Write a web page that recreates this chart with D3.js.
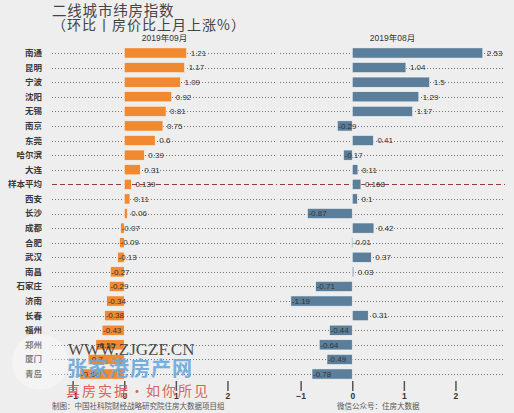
<!DOCTYPE html>
<html><head><meta charset="utf-8">
<script src="https://cdn.jsdelivr.net/npm/d3@7/dist/d3.min.js"></script>
<style>
html,body{margin:0;padding:0;background:#eeeeee;}
svg{display:block;}
</style></head>
<body>
<script>
const cities = ["南通","昆明","宁波","沈阳","无锡","南京","东莞","哈尔滨","大连","样本平均","西安","长沙","成都","合肥","武汉","南昌","石家庄","济南","长春","福州","郑州","厦门","青岛"];
const sep2019 = [1.21,1.17,1.09,0.92,0.81,0.75,0.6,0.39,0.31,0.139,0.11,0.06,-0.07,-0.09,-0.13,-0.27,-0.29,-0.34,-0.38,-0.43,-0.55,-0.7,-0.86];
const aug2019 = [2.53,1.04,1.5,1.29,1.17,-0.29,0.41,-0.17,0.11,0.168,0.1,-0.87,0.42,-0.01,0.37,0.03,-0.71,-1.19,0.31,-0.44,-0.64,-0.49,-0.78];
const panelTitles = ["2019年09月","2019年08月"];
const tickVals = [-1,0,1,2];
const avgName = "样本平均";

const W = 514, H = 413;
const svg = d3.select("body").append("svg").attr("width",W).attr("height",H);
svg.append("rect").attr("width",W).attr("height",H).attr("fill","#eeeeee");

// title
svg.append("text").attr("x",52).attr("y",16).attr("font-family","Noto Sans CJK SC").attr("font-size",14.5).attr("letter-spacing",0.8).attr("fill","#444").text("二线城市纬房指数");
svg.append("text").attr("x",52).attr("y",30).attr("font-family","Noto Sans CJK SC").attr("font-size",14).attr("letter-spacing",1).attr("fill","#444").text("（环比丨房价比上月上涨%）");

const y = d3.scaleBand().domain(cities).range([43.5,383.5]).paddingInner(0.3).paddingOuter(0.3);
const cy = d => Math.round(y(d)+y.bandwidth()/2)+0.5;

const panels = [
  {x0:52, x1:277, data:sep2019, color:"#f0892f", title:panelTitles[0]},
  {x0:280, x1:505, data:aug2019, color:"#5b7f9b", title:panelTitles[1]}
];

// city labels
svg.append("g").selectAll("text").data(cities).join("text")
  .attr("x",42).attr("y",d=>y(d)+y.bandwidth()/2).attr("dy","0.35em")
  .attr("text-anchor","end").attr("font-family","Noto Sans CJK SC").attr("font-weight","bold")
  .attr("font-size",8.5).attr("fill","#3a3a3a").text(d=>d);

panels.forEach(p=>{
  const x = d3.scaleLinear().domain([-1.4,2.96]).range([p.x0,p.x1]);
  const g = svg.append("g");
  // gridlines
  g.selectAll("line.grid").data(cities).join("line")
    .attr("x1",p.x0).attr("x2",p.x1)
    .attr("y1",cy).attr("y2",cy)
    .attr("stroke",d=>d===avgName?"#9a3b3b":"#777")
    .attr("stroke-width",1)
    .attr("stroke-dasharray",d=>d===avgName?"5,3":"1,2");
  // title
  g.append("text").attr("x",(p.x0+p.x1)/2).attr("y",41).attr("text-anchor","middle")
    .attr("font-family","Liberation Sans, Noto Sans CJK SC").attr("font-size",8.5).attr("fill","#333").text(p.title);
  // bars
  g.selectAll("rect").data(cities.map((c,i)=>({c,v:p.data[i]}))).join("rect")
    .attr("x",d=>x(Math.min(0,d.v))).attr("width",d=>Math.max(1,Math.abs(x(d.v)-x(0))))
    .attr("y",d=>y(d.c)).attr("height",y.bandwidth())
    .attr("fill",p.color).attr("stroke","#f7f7f7").attr("stroke-width",0.6);
  // value labels
  g.selectAll("text.val").data(cities.map((c,i)=>({c,v:p.data[i]}))).join("text")
    .attr("class","val")
    .attr("x",d=>d.v>=0?x(d.v)+4:x(d.v)+1)
    .attr("y",d=>y(d.c)+y.bandwidth()/2).attr("dy","0.35em")
    .attr("font-family","Liberation Sans").attr("font-size",8).attr("fill","#333")
    .text(d=>d.v);
  // axis
  const ax = g.append("g").attr("transform","translate(0,381)")
    .call(d3.axisBottom(x).tickValues(tickVals).tickSize(10).tickPadding(2).tickFormat(d3.format("d")));
  ax.select(".domain").remove();
  ax.selectAll(".tick line").attr("stroke","#555").attr("stroke-width",1.5);
  ax.selectAll(".tick text").attr("font-family","Liberation Sans").attr("font-weight","bold").attr("font-size",8.5).attr("fill","#333");
});

// footers
svg.append("text").attr("x",52).attr("y",409).attr("font-family","Noto Sans CJK SC").attr("font-size",7.5).attr("fill","#555").text("制图：中国社科院财经战略研究院住房大数据项目组");
svg.append("text").attr("x",337).attr("y",409).attr("font-family","Noto Sans CJK SC").attr("font-size",7.5).attr("fill","#555").text("微信公众号：住房大数据");

// watermark
const wm = svg.append("g");
wm.append("circle").attr("cx",40).attr("cy",362).attr("r",28).attr("fill","#ffffff").attr("opacity",0.35);
wm.append("text").attr("x",68).attr("y",355).attr("font-family","Liberation Serif").attr("font-size",17).attr("fill","#333").attr("opacity",0.85).text("WWW.ZJGZF.CN");
wm.append("text").attr("x",67).attr("y",376).attr("font-family","Noto Sans CJK SC").attr("font-weight","bold").attr("font-size",20).attr("fill","#6aa8dc").attr("opacity",0.9).attr("letter-spacing",1).text("张家港房产网");
wm.append("text").attr("x",66).attr("y",396).attr("font-family","Noto Sans CJK SC").attr("font-size",14).attr("fill","#d9534f").attr("opacity",0.9).attr("letter-spacing",2).text("真房实据·如你所见");
</script>
</body></html>
